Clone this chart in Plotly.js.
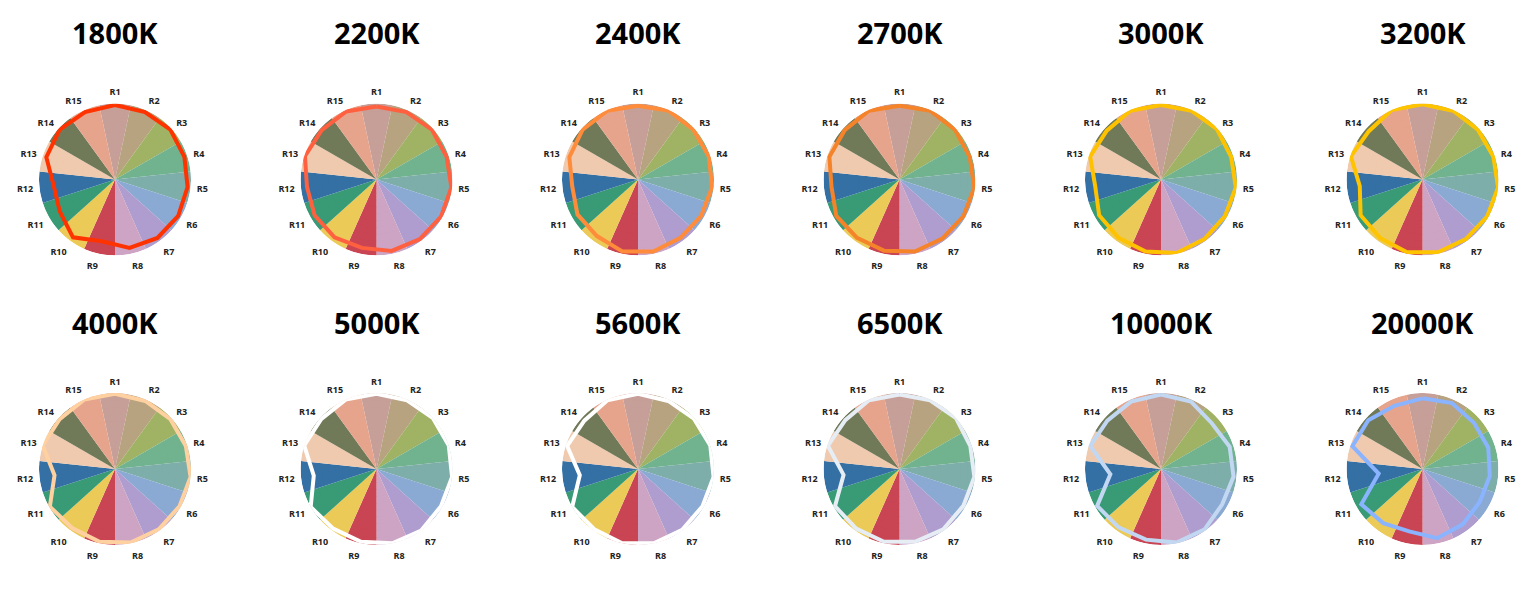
<!DOCTYPE html>
<html>
<head>
<meta charset="utf-8">
<script src="https://cdn.plot.ly/plotly-3.0.1.min.js"></script>
<style>html,body{margin:0;padding:0;background:#fff;}#chart{width:1536px;height:589px;}</style>
</head>
<body>
<div id="chart"></div>
<script>
// ---- data ----
const categories = ['R1','R2','R3','R4','R5','R6','R7','R8','R9','R10','R11','R12','R13','R14','R15'];
const wedgeValues = [100,100,100,100,100,100,100,100,100,100,100,100,100,100,100];
const cctLabels = ['1800K','2200K','2400K','2700K','3000K','3200K','4000K','5000K','5600K','6500K','10000K','20000K'];
const r1800  = [98,97,98,96,96,96,95,92,83,94,84,81,95,98,97];
const r2200  = [96,97,98,97,99,98,97,96,92,94,94,92,99,97,98];
const r2400  = [97,99,98,98,98,96,95,97,97,92,92,87,95,98,99];
const r2700  = [97,99,98,97,99,97,96,97,96,95,96,90,97,97,99];
const r3000  = [98,99,99,97,99,97,97,99,97,95,94,87,98,96,99];
const r3200  = [99,99,98,98,100,98,97,98,98,95,94,83,99,95,100];
const r4000  = [99,98,98,98,100,98,98,99,98,96,99,80,100,98,100];
const r5000  = [99,99,100,100,100,98,100,100,98,97,100,83,100,98,100];
const r5600  = [99,98,99,100,100,98,99,100,100,98,100,77,98,95,99];
const r6500  = [98,99,100,98,99,97,98,98,98,97,98,74,99,96,99];
const r10000 = [98,97,90,95,96,93,98,99,95,95,97,67,98,95,97];
const r20000 = [93,95,91,91,89,87,90,93,84,88,93,58,97,96,91];
const seriesValues = [r1800,r2200,r2400,r2700,r3000,r3200,r4000,r5000,r5600,r6500,r10000,r20000];

// ---- styles ----
const wedgeColors = ['#c39a94','#b49f7a','#9bae5b','#69af88','#78aaa6','#84a6d2','#aa98cc','#cca0c2',
                     '#c83c4b','#ebc850','#2e966e','#2a69a0','#f0c8aa','#697250','#e6a087'];
const lineColors = ['#ff3300','#ff6040','#ff8c3a','#f5832a','#ffc200','#ffc400',
                    '#ffd0a0','#ffffff','#ffffff','#e6edf5','#c2d8f2','#8ab4ff'];

const W = 1536, H = 589, R = 76;
const traces = [];
const layout = {
  width: W, height: H,
  margin: {l:0, r:0, t:0, b:0},
  paper_bgcolor: '#ffffff',
  showlegend: false,
  annotations: []
};

for (let i = 0; i < cctLabels.length; i++) {
  const row = Math.floor(i / 6), col = i % 6;
  const cx = 115 + col * 261.5;
  const cy = row === 0 ? 179.5 : 469;
  const ty = row === 0 ? 33 : 322;
  const key = i === 0 ? 'polar' : 'polar' + (i + 1);

  traces.push({
    type: 'barpolar',
    subplot: key,
    r: wedgeValues,
    theta: categories,
    marker: {color: wedgeColors, line: {width: 0}},
    opacity: 0.95,
    hoverinfo: 'skip'
  });
  const vals = seriesValues[i];
  traces.push({
    type: 'scatterpolar',
    subplot: key,
    mode: 'lines',
    r: vals.concat([vals[0]]),
    theta: categories.concat([categories[0]]),
    line: {color: lineColors[i], width: 4},
    cliponaxis: false,
    hoverinfo: 'skip'
  });

  layout[key] = {
    domain: {
      x: [(cx - R) / W, (cx + R) / W],
      y: [1 - (cy + R) / H, 1 - (cy - R) / H]
    },
    bgcolor: 'rgba(0,0,0,0)',
    bargap: 0,
    angularaxis: {
      type: 'category',
      categoryarray: categories,
      rotation: 90,
      direction: 'clockwise',
      showgrid: false,
      showline: false,
      ticks: 'outside',
      ticklen: 4,
      tickcolor: 'rgba(0,0,0,0)',
      tickfont: {size: 9, color: '#222222', family: 'Open Sans, sans-serif', weight: 'bold'}
    },
    radialaxis: {
      range: [0, 100],
      showticklabels: false,
      ticks: '',
      showline: false,
      dtick: 9,
      gridcolor: 'rgba(30,30,30,0.16)',
      gridwidth: 0.8,
      layer: 'above traces'
    }
  };

  layout.annotations.push({
    text: cctLabels[i],
    xref: 'paper', yref: 'paper',
    x: cx / W, y: 1 - ty / H,
    xanchor: 'center', yanchor: 'middle',
    showarrow: false,
    font: {size: 29, color: '#000000', family: 'Open Sans, sans-serif', weight: 'bold'}
  });
}

Plotly.newPlot('chart', traces, layout, {staticPlot: true, displayModeBar: false});
</script>
</body>
</html>
